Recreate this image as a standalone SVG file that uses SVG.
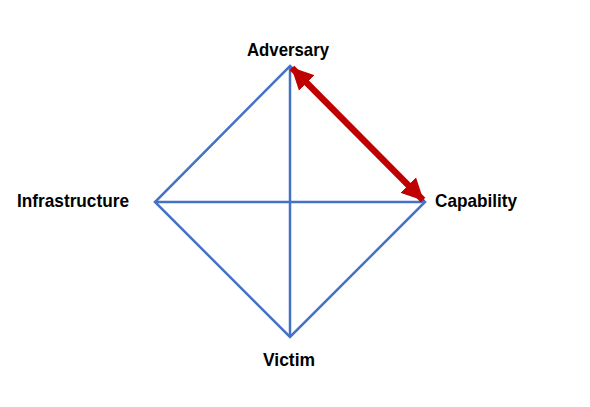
<svg xmlns="http://www.w3.org/2000/svg" width="590" height="407" viewBox="0 0 590 407">
<style>
.edge{stroke:#4472C4;stroke-width:2.5;fill:none}
.lbl{font-family:"Liberation Sans",Arial,sans-serif;font-weight:bold;font-size:18.5px;fill:#000}
</style>
<defs>
<marker id="ah" markerUnits="userSpaceOnUse" viewBox="0 0 22 22" refX="21" refY="11" markerWidth="22" markerHeight="22" orient="auto-start-reverse">
<path d="M0,0 L22,11 L0,22 Z" fill="#C00000"/>
</marker>
</defs>
<rect width="590" height="407" fill="#fff"/>
<g id="connectors">
<path class="edge" d="M290,66 L425,202 L290,337 L155,202 Z"/>
<line class="edge" x1="290" y1="66" x2="290" y2="337"/>
<line class="edge" x1="155" y1="202" x2="425" y2="202"/>
<line x1="292" y1="68" x2="423" y2="200" stroke="#C00000" stroke-width="6.5" marker-start="url(#ah)" marker-end="url(#ah)"/>
</g>
<g id="adversary"><text class="lbl" x="288" y="56" text-anchor="middle" textLength="82" lengthAdjust="spacingAndGlyphs">Adversary</text></g>
<g id="capability"><text class="lbl" x="435" y="207" textLength="82" lengthAdjust="spacingAndGlyphs">Capability</text></g>
<g id="infrastructure"><text class="lbl" x="17" y="207" textLength="112" lengthAdjust="spacingAndGlyphs">Infrastructure</text></g>
<g id="victim"><text class="lbl" x="289" y="366" text-anchor="middle" textLength="52" lengthAdjust="spacingAndGlyphs">Victim</text></g>
</svg>
